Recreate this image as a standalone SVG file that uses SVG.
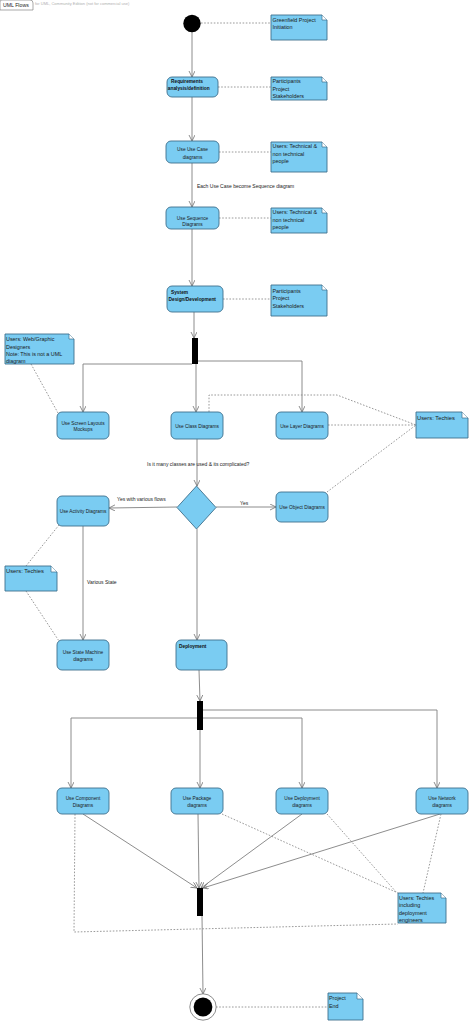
<svg xmlns="http://www.w3.org/2000/svg" width="474" height="1026" viewBox="0 0 474 1026">
<defs>
<marker id="arr" markerWidth="8" markerHeight="8" refX="6" refY="3" orient="auto" markerUnits="userSpaceOnUse">
<path d="M0,0 L6,3 L0,6" fill="none" stroke="#707070" stroke-width="0.8"/>
</marker>
<style>
.node{fill:#7ACCF2;stroke:#3E6F8C;stroke-width:0.9}
.note{fill:#7ACCF2;stroke:#3E6F8C;stroke-width:0.9}
.fold{fill:#FFFFFF;stroke:#3E6F8C;stroke-width:0.7}
.t{font-family:"Liberation Sans",Arial,sans-serif;font-size:5px;fill:#1a1a1a}
.tc{font-family:"Liberation Sans",Arial,sans-serif;font-size:4.8px;fill:#1a1a1a;text-anchor:middle}
.tb{font-family:"Liberation Sans",Arial,sans-serif;font-size:4.8px;font-weight:bold;fill:#111}
.nt{font-family:"Liberation Sans",Arial,sans-serif;font-size:5.4px;fill:#1a1a1a}
.e{fill:none;stroke:#808080;stroke-width:0.9;marker-end:url(#arr)}
.d{fill:none;stroke:#808080;stroke-width:0.8;stroke-dasharray:1.6,1.6}
.bar{fill:#000}
</style>
</defs>
<rect width="474" height="1026" fill="#FFFFFF"/>
<g id="header">
<path d="M0,10 L0,2 Q0,0 2,0 L30,0 Q33,0 33,3 L33,10 Z" fill="#FFFFFF" stroke="#707070" stroke-width="0.6"/>
<text x="3" y="7" style="font-family:'Liberation Sans',Arial,sans-serif;font-size:5.2px;fill:#222">UML Flows</text>
<text x="35" y="5" style="font-family:'Liberation Sans',Arial,sans-serif;font-size:4px;fill:#b0b0b0">for UML, Community Edition (not for commercial use)</text>
</g>
<g id="connectors">
<line class="d" x1="201" y1="23" x2="271" y2="23"/>
<line class="d" x1="218" y1="87" x2="271" y2="87"/>
<line class="d" x1="219" y1="152" x2="271" y2="152"/>
<line class="d" x1="219" y1="218" x2="271" y2="218"/>
<line class="d" x1="223" y1="299" x2="271" y2="299"/>
<line class="d" x1="31" y1="364" x2="58" y2="413"/>
<polyline class="d" points="209,412 209,395 337,395 416,425"/>
<line class="d" x1="328" y1="425" x2="416" y2="425"/>
<line class="d" x1="327" y1="492" x2="416" y2="425"/>
<line class="d" x1="26" y1="566" x2="59" y2="525"/>
<line class="d" x1="26" y1="591" x2="59" y2="641"/>
<line class="d" x1="222" y1="814" x2="398" y2="893"/>
<line class="d" x1="327" y1="814" x2="397" y2="893"/>
<line class="d" x1="441" y1="814" x2="423" y2="893"/>
<polyline class="d" points="75,814 74,932 398,924"/>
<line class="d" x1="216" y1="1007" x2="328" y2="1007"/>

<line class="e" x1="192" y1="32" x2="192" y2="77"/>
<line class="e" x1="192" y1="97" x2="192" y2="141"/>
<line class="e" x1="192" y1="163" x2="192" y2="207"/>
<line class="e" x1="192" y1="229" x2="192" y2="286"/>
<line class="e" x1="194" y1="312" x2="194" y2="338"/>
<polyline class="e" points="192,364 83,364 83,412"/>
<line class="e" x1="196" y1="364" x2="196" y2="412"/>
<polyline class="e" points="198,361 302,361 302,412"/>
<line class="e" x1="197" y1="439" x2="197" y2="486"/>
<line class="e" x1="216" y1="507" x2="276" y2="507"/>
<line class="e" x1="177" y1="507" x2="109" y2="508"/>
<line class="e" x1="83" y1="526" x2="83" y2="640"/>
<line class="e" x1="197" y1="529" x2="197" y2="640"/>
<line class="e" x1="199" y1="670" x2="200" y2="701"/>
<polyline class="e" points="203,710 437,710 437,788"/>
<polyline class="e" points="197,718 71,718 71,788"/>
<polyline class="e" points="203,718 302,718 302,788"/>
<line class="e" x1="200" y1="730" x2="200" y2="788"/>
<line class="e" x1="83" y1="814" x2="197" y2="888"/>
<line class="e" x1="198" y1="814" x2="199" y2="888"/>
<line class="e" x1="302" y1="814" x2="201" y2="888"/>
<line class="e" x1="440" y1="814" x2="203" y2="888"/>
<line class="e" x1="202" y1="916" x2="203" y2="994"/>

<text class="t" x="197" y="187.5">Each Use Case become Sequence diagram</text>
<text class="t" x="147" y="466">Is it many classes are used &amp; its complicated?</text>
<text class="t" x="117" y="501">Yes with various flows</text>
<text class="t" x="240" y="504.5">Yes</text>
<text class="t" x="87" y="584">Various State</text>
</g>

<g id="start"><circle cx="192" cy="23.5" r="8.7" fill="#000"/></g>

<g id="note1"><path class="note" d="M271,15 H322 L327,20 V40 H271 Z"/><path class="fold" d="M322,15 V20 H327"/>
<text class="nt" x="272.5" y="22">Greenfield Project</text><text class="nt" x="272.5" y="29.3">Initiation</text></g>

<g id="req"><rect class="node" x="167" y="77" width="51" height="20" rx="5"/>
<text class="tb" x="171" y="82.8">Requirements</text><text class="tb" x="167.8" y="90.3">analysis/definition</text></g>
<g id="note2"><path class="note" d="M271,77 H322 L327,82 V100 H271 Z"/><path class="fold" d="M322,77 V82 H327"/>
<text class="nt" x="272.5" y="83">Participants</text><text class="nt" x="272.5" y="90.5">Project</text><text class="nt" x="272.5" y="98">Stakeholders</text></g>

<g id="usecase"><rect class="node" x="166" y="141" width="53" height="22" rx="5"/>
<text class="tc" x="192.5" y="151">Use Use Case</text><text class="tc" x="192.5" y="158.5">diagrams</text></g>
<g id="note3"><path class="note" d="M271,142 H322 L327,147 V172 H271 Z"/><path class="fold" d="M322,142 V147 H327"/>
<text class="nt" x="272.5" y="148">Users: Technical &amp;</text><text class="nt" x="272.5" y="155.5">non technical</text><text class="nt" x="272.5" y="163">people</text></g>

<g id="sequence"><rect class="node" x="166" y="207" width="53" height="22" rx="5"/>
<text class="tc" x="192.5" y="219.5">Use Sequence</text><text class="tc" x="192.5" y="226">Diagrams</text></g>
<g id="note4"><path class="note" d="M271,208 H322 L327,213 V233 H271 Z"/><path class="fold" d="M322,208 V213 H327"/>
<text class="nt" x="272.5" y="214">Users: Technical &amp;</text><text class="nt" x="272.5" y="221.5">non technical</text><text class="nt" x="272.5" y="229">people</text></g>

<g id="system"><rect class="node" x="167" y="286" width="56" height="26" rx="5"/>
<text class="tb" x="171" y="294">System</text><text class="tb" x="168.5" y="300.5">Design/Development</text></g>
<g id="note5"><path class="note" d="M271,285 H322 L327,290 V316 H271 Z"/><path class="fold" d="M322,285 V290 H327"/>
<text class="nt" x="272.5" y="292.5">Participants</text><text class="nt" x="272.5" y="300">Project</text><text class="nt" x="272.5" y="307.5">Stakeholders</text></g>

<g id="fork1"><rect class="bar" x="192" y="338" width="6" height="26"/></g>

<g id="note6"><path class="note" d="M5,334 H69 L74,339 V364 H5 Z"/><path class="fold" d="M69,334 V339 H74"/>
<text class="nt" x="6" y="341">Users: Web/Graphic</text><text class="nt" x="6" y="348.5">Designers</text><text class="nt" x="6" y="355.5">Note: This is not a UML</text><text class="nt" x="6" y="362.5">diagram</text></g>

<g id="screen"><rect class="node" x="57" y="412" width="52" height="27" rx="5"/>
<text class="tc" x="83" y="424.5">Use Screen Layouts</text><text class="tc" x="83" y="431">Mockups</text></g>
<g id="class"><rect class="node" x="171" y="412" width="52" height="27" rx="5"/>
<text class="tc" x="197" y="427.5">Use Class Diagrams</text></g>
<g id="layer"><rect class="node" x="276" y="412" width="52" height="27" rx="5"/>
<text class="tc" x="302" y="427.5">Use Layer Diagrams</text></g>
<g id="note7"><path class="note" d="M416,412 H462 L468,418 V438 H416 Z"/><path class="fold" d="M462,412 V418 H468"/>
<text class="nt" x="417" y="419.5" style="font-size:5.8px">Users: Techies</text></g>

<g id="decision"><polygon class="node" points="196.5,486 216,507.5 196.5,529 177,507.5"/></g>

<g id="object"><rect class="node" x="276" y="492" width="52" height="30" rx="5"/>
<text class="tc" x="302" y="508.5">Use Object Diagrams</text></g>
<g id="activity"><rect class="node" x="57" y="496" width="52" height="30" rx="5"/>
<text class="tc" x="83" y="513">Use Activity Diagrams</text></g>
<g id="note8"><path class="note" d="M5,566 H51 L57,572 V591 H5 Z"/><path class="fold" d="M51,566 V572 H57"/>
<text class="nt" x="6" y="572.5" style="font-size:5.8px">Users: Techies</text></g>
<g id="state"><rect class="node" x="57" y="640" width="52" height="30" rx="5"/>
<text class="tc" x="83" y="654">Use State Machine</text><text class="tc" x="83" y="660.5">diagrams</text></g>

<g id="deployment"><rect class="node" x="176" y="640" width="51" height="30" rx="5"/>
<text class="tb" x="179" y="647.5">Deployment</text></g>

<g id="fork2"><rect class="bar" x="197" y="701" width="6" height="29"/></g>

<g id="component"><rect class="node" x="57" y="788" width="52" height="26" rx="5"/>
<text class="tc" x="83" y="800">Use Component</text><text class="tc" x="83" y="807">Diagrams</text></g>
<g id="package"><rect class="node" x="171" y="788" width="52" height="26" rx="5"/>
<text class="tc" x="197" y="800">Use Package</text><text class="tc" x="197" y="807">diagrams</text></g>
<g id="deploydiag"><rect class="node" x="276" y="788" width="52" height="26" rx="5"/>
<text class="tc" x="302" y="800">Use Deployment</text><text class="tc" x="302" y="807">diagrams</text></g>
<g id="network"><rect class="node" x="416" y="788" width="52" height="26" rx="5"/>
<text class="tc" x="442" y="800">Use Network</text><text class="tc" x="442" y="807">diagrams</text></g>

<g id="join"><rect class="bar" x="197" y="888" width="6" height="28"/></g>

<g id="note9"><path class="note" d="M398,893 H441 L446,898 V923 H398 Z"/><path class="fold" d="M441,893 V898 H446"/>
<text class="nt" x="399" y="900">Users: Techies</text><text class="nt" x="399" y="907">including</text><text class="nt" x="399" y="914.5">deployment</text><text class="nt" x="399" y="922">engineers</text></g>

<g id="end"><circle cx="203" cy="1007" r="13.2" fill="#FFFFFF" stroke="#707070" stroke-width="0.8"/><circle cx="203" cy="1007" r="9.4" fill="#000"/></g>
<g id="note10"><path class="note" d="M328,993 H357 L363,999 V1020 H328 Z"/><path class="fold" d="M357,993 V999 H363"/>
<text class="nt" x="329" y="1000">Project</text><text class="nt" x="329" y="1007.5">End</text></g>
</svg>
